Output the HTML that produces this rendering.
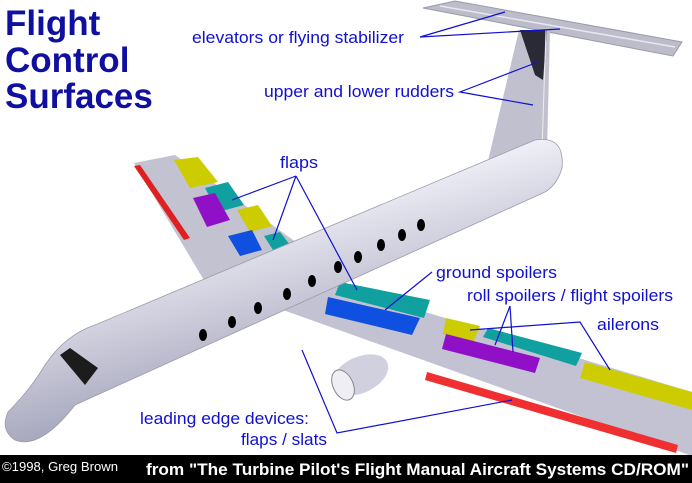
<!DOCTYPE html>
<html><head><meta charset="utf-8"><style>
html,body{margin:0;padding:0;background:#fff}
svg{display:block}
text{font-family:"Liberation Sans",sans-serif}
</style></head><body>
<svg width="692" height="483" viewBox="0 0 692 483" xmlns="http://www.w3.org/2000/svg">
<defs>
<linearGradient id="fus" x1="0" y1="0" x2="0.44" y2="0.9">
<stop offset="0" stop-color="#b8b8cc"/><stop offset="0.4" stop-color="#f2f2fa"/><stop offset="1" stop-color="#9c9cb4"/>
</linearGradient>
</defs>
<!-- horizontal stabilizer -->
<polygon points="423,8 455,1 682,42 673,56" fill="#bcbcca" stroke="#9a9aaa"/>
<line x1="440" y1="6" x2="675" y2="47" stroke="#e8e8f0" stroke-width="1.5"/>
<!-- vertical fin -->
<polygon points="487,165 519,30 550,30 547,150" fill="#c0c0ce"/>
<polygon points="520,30 547,30 543,80 535,75" fill="#2a2a36"/>
<line x1="546" y1="30" x2="542" y2="150" stroke="#eee" stroke-width="1"/>
<!-- far wing -->
<polygon points="134,163 175,155 300,245 205,282" fill="#c2c2d0"/>
<polygon points="134,166 140,165 190,238 184,240" fill="#e02020"/>
<polygon points="174,160 198,157 218,182 190,188" fill="#cccc00"/>
<polygon points="205,188 228,182 244,205 218,212" fill="#10a0a0"/>
<polygon points="193,198 215,193 230,220 207,227" fill="#9010c8"/>
<polygon points="237,210 258,205 272,226 250,232" fill="#cccc00"/>
<polygon points="228,236 252,230 262,250 240,256" fill="#1050e0"/>
<polygon points="264,236 280,232 290,245 273,250" fill="#10a0a0"/>
<!-- near wing -->
<polygon points="305,276 692,392 692,456 255,300" fill="#c2c2d2"/>
<polygon points="340,282 430,300 424,318 335,295" fill="#10a0a0"/>
<polygon points="328,297 420,318 412,335 325,314" fill="#1050e0"/>
<polygon points="446,318 480,326 472,345 443,334" fill="#cccc00"/>
<polygon points="488,328 582,353 576,366 483,337" fill="#10a0a0"/>
<polygon points="446,334 540,358 535,373 442,349" fill="#9010c8"/>
<polygon points="585,362 692,392 692,410 580,378" fill="#cccc00"/>
<polygon points="427,372 678,445 676,453 425,380" fill="#f03030"/>
<!-- engine -->
<ellipse cx="360" cy="375" rx="30" ry="18" fill="#d0d0de" transform="rotate(-25 360 375)"/>
<ellipse cx="343" cy="385" rx="10" ry="16" fill="#eeeef4" stroke="#888" transform="rotate(-25 343 385)"/>
<!-- fuselage -->
<path d="M95,325 L535,140 Q565,135 562,168 Q557,185 545,192 L75,405 Q40,450 15,440 Q0,430 8,412 Q30,390 45,365 Q65,335 95,325 Z" fill="url(#fus)" stroke="#9a9aaa" stroke-width="0.8"/>
<path d="M60,355 L70,348 L98,368 L85,385 Z" fill="#1c1c1c"/>
<g fill="#000">
<ellipse cx="203" cy="335" rx="4" ry="6"/><ellipse cx="232" cy="322" rx="4" ry="6"/>
<ellipse cx="258" cy="308" rx="4" ry="6"/><ellipse cx="287" cy="294" rx="4" ry="6"/>
<ellipse cx="312" cy="281" rx="4" ry="6"/><ellipse cx="338" cy="267" rx="4" ry="6"/>
<ellipse cx="358" cy="257" rx="4" ry="6"/><ellipse cx="381" cy="245" rx="4" ry="6"/>
<ellipse cx="402" cy="235" rx="4" ry="6"/><ellipse cx="421" cy="225" rx="4" ry="6"/>
</g>
<!-- title -->
<g fill="#1010a0" font-weight="bold" font-size="35">
<text x="5" y="35">Flight</text><text x="5" y="72">Control</text><text x="5" y="108">Surfaces</text>
</g>
<!-- labels -->
<g fill="#1010d0" font-size="17">
<text x="192" y="43" textLength="212" lengthAdjust="spacingAndGlyphs">elevators or flying stabilizer</text>
<text x="264" y="97" textLength="190" lengthAdjust="spacingAndGlyphs">upper and lower rudders</text>
<text x="280" y="168" textLength="38" lengthAdjust="spacingAndGlyphs">flaps</text>
<text x="436" y="278" textLength="121" lengthAdjust="spacingAndGlyphs">ground spoilers</text>
<text x="467" y="301" textLength="206" lengthAdjust="spacingAndGlyphs">roll spoilers / flight spoilers</text>
<text x="597" y="330" textLength="62" lengthAdjust="spacingAndGlyphs">ailerons</text>
<text x="140" y="424" textLength="169" lengthAdjust="spacingAndGlyphs">leading edge devices:</text>
<text x="241" y="445" textLength="86" lengthAdjust="spacingAndGlyphs">flaps / slats</text>
</g>
<g stroke="#1010d0" stroke-width="1.2" fill="none">
<polyline points="505,12 420,37 560,29"/>
<polyline points="538,62 460,92 533,105"/>
<line x1="296" y1="176" x2="232" y2="200"/>
<line x1="296" y1="176" x2="273" y2="240"/>
<line x1="296" y1="176" x2="357" y2="290"/>
<line x1="432" y1="272" x2="385" y2="310"/>
<line x1="510" y1="306" x2="495" y2="345"/>
<line x1="510" y1="306" x2="513" y2="352"/>
<polyline points="470,330 580,322 610,370"/>
<polyline points="302,350 337,433 512,400"/>
</g>
<!-- footer -->
<rect x="0" y="455" width="692" height="28" fill="#000"/>
<text x="2" y="471" fill="#fff" font-size="12.5" textLength="116" lengthAdjust="spacingAndGlyphs">©1998, Greg Brown</text>
<text x="146" y="475" fill="#fff" font-size="17" font-weight="bold" textLength="543" lengthAdjust="spacingAndGlyphs">from "The Turbine Pilot's Flight Manual Aircraft Systems CD/ROM"</text>
</svg>
</body></html>
